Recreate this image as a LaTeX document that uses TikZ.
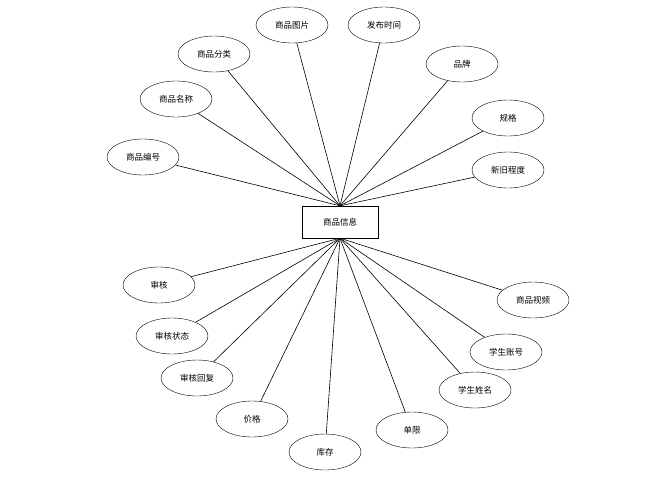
\documentclass[tikz,border=0pt]{standalone}
\usepackage{fontspec}
\usetikzlibrary{shapes.geometric}
\newfontfamily\cjk{Noto Sans CJK SC}
\begin{document}
\begin{tikzpicture}[x=1pt,y=-1pt,
  ell/.style={draw,ellipse,minimum width=72pt,minimum height=36pt,inner sep=0pt,font=\cjk\fontsize{8.5}{10}\selectfont},
  ln/.style={draw,line width=0.6pt}]
\useasboundingbox (0,0) rectangle (661,485);
\node[draw,minimum width=76pt,minimum height=32pt,font=\cjk\fontsize{8.5}{10}\selectfont] (c) at (340,222) {商品信息};
\foreach \n/\x/\y/\t in {a/292/25/商品图片,b/384/25/发布时间,d/214/54/商品分类,e/462/64/品牌,f/176/99/商品名称,g/508/118/规格,h/143/157/商品编号,i/508/170/新旧程度}
  {\node[ell] (\n) at (\x,\y) {\t}; \draw[ln] (c.north) -- (\n);}
\foreach \n/\x/\y/\t in {j/159/285/审核,k/533/300/商品视频,l/172/336/审核状态,m/506/352/学生账号,o/197/378/审核回复,p/475/390/学生姓名,q/252/419/价格,r/412/430/单限,s/325/452/库存}
  {\node[ell] (\n) at (\x,\y) {\t}; \draw[ln] (c.south) -- (\n);}
\end{tikzpicture}
\end{document}
